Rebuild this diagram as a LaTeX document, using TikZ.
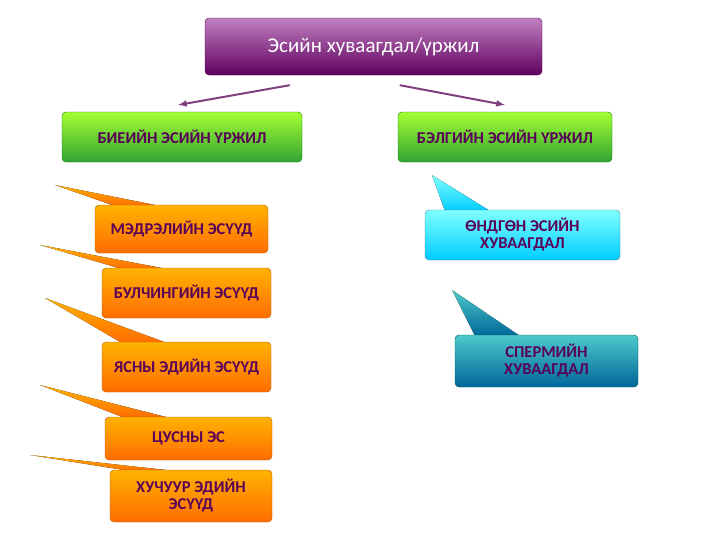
\documentclass[tikz,border=0pt]{standalone}
\usepackage{fontspec}
\setmainfont{Carlito}
\begin{document}
\begin{tikzpicture}[x=1pt,y=-1pt,
  box/.style={rounded corners=4pt,minimum height=#1,align=center,font=\bfseries\fontsize{16.5}{17}\selectfont,text=violet!70!black},
  og/.style={top color=orange!60!yellow,bottom color=orange!85!red,draw=orange!70!black,line width=0.4pt},
  gr/.style={top color=green!45!yellow!80!white,bottom color=green!55!black!80,draw=green!50!black,line width=0.4pt},
  bl/.style={top color=cyan!50,bottom color=cyan!80!blue,draw=cyan!60!black,line width=0.4pt},
  tl/.style={top color=cyan!40!teal!70,bottom color=teal!80!blue,draw=teal!70!black,line width=0.4pt},
  arr/.style={-latex,line width=2pt,draw=violet!50!gray}]
\useasboundingbox (0,0) rectangle (728,546);
\node[box=57pt,minimum width=337pt,top color=violet!50,bottom color=violet!75!black,draw=violet!60!black,text=white,font=\fontsize{21}{23}\selectfont] (top) at (373.5,46.5) {Эсийн хуваагдал/үржил};
\node[box=50pt,minimum width=240pt,gr] (g1) at (182,137) {БИЕИЙН ЭСИЙН ҮРЖИЛ};
\node[box=50pt,minimum width=214pt,gr] (g2) at (505,137) {БЭЛГИЙН ЭСИЙН ҮРЖИЛ};
\coordinate (a1) at (178,105); \coordinate (a2) at (505,105);
\draw[arr] (top.south west) ++(85,10) -- (a1);
\draw[arr] (top.south west) ++(195,10) -- (a2);
\foreach \n/\cx/\cy/\w/\h/\tx/\ty/\st/\txt in {
  o1/181.5/229/173/48/55/185/og/{МЭДРЭЛИЙН ЭСҮҮД},
  o2/186.5/293/169/50/40/245/og/{БУЛЧИНГИЙН ЭСҮҮД},
  o3/186.5/367/169/50/45/298/og/{ЯСНЫ ЭДИЙН ЭСҮҮД},
  o4/188.5/438.5/167/43/40/385/og/{ЦУСНЫ ЭС},
  o5/191/496/162/52/30/455/og/{ХУЧУУР ЭДИЙН\\ЭСҮҮД},
  b1/522.5/235/195/50/432/175/bl/{ӨНДГӨН ЭСИЙН\\ХУВААГДАЛ},
  b2/546.5/361/183/52/452/290/tl/{СПЕРМИЙН\\ХУВААГДАЛ}}{
  \coordinate (\n tip) at (\tx,\ty);
  \fill[\st,draw=none] (\n tip) -- (\cx-\w/2+20,\cy-\h/2+1) -- (\cx-\w/2+65,\cy-\h/2+1) -- cycle;
  \node[box=\h pt,minimum width=\w pt,\st] (\n) at (\cx,\cy) {\txt};
}
\end{tikzpicture}
\end{document}
